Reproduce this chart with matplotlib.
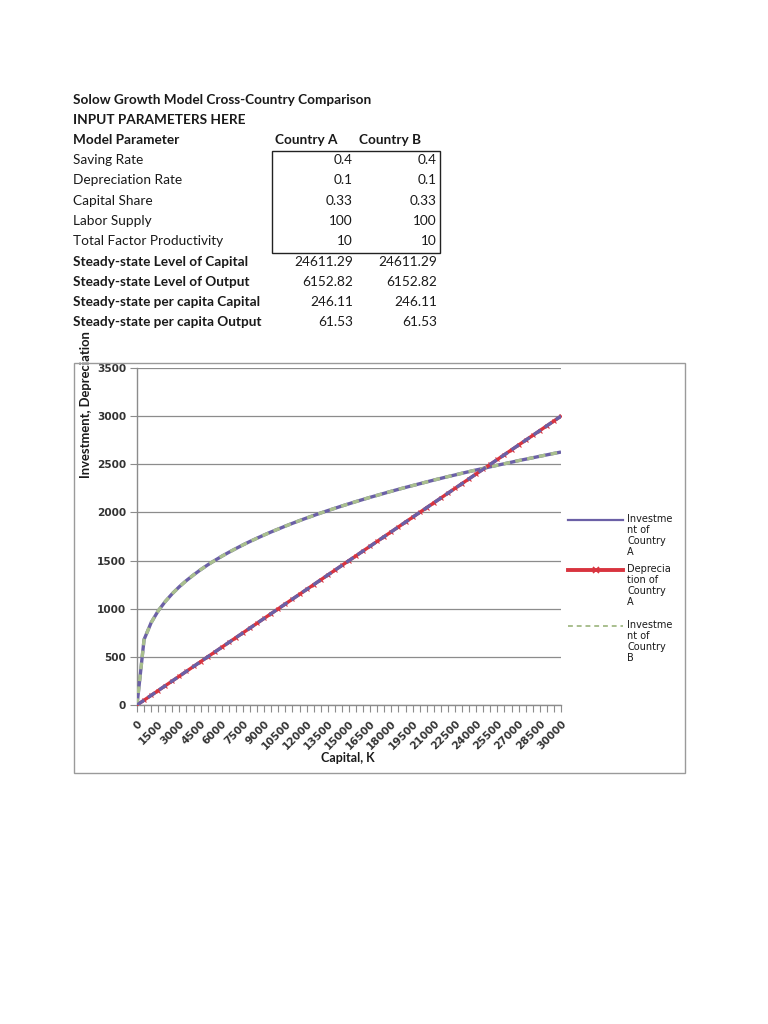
import matplotlib
matplotlib.use("Agg")
import matplotlib.pyplot as plt
from matplotlib.lines import Line2D
from matplotlib.patches import Rectangle

plt.rcParams['font.family'] = ['Lato', 'DejaVu Sans']

# ---------------- data ----------------
title = "Solow Growth Model Cross-Country Comparison"
subtitle = "INPUT PARAMETERS HERE"
header = ["Model Parameter", "Country A", "Country B"]
param_names = ["Saving Rate", "Depreciation Rate", "Capital Share",
               "Labor Supply", "Total Factor Productivity"]
param_a = ["0.4", "0.1", "0.33", "100", "10"]
param_b = ["0.4", "0.1", "0.33", "100", "10"]
ss_names = ["Steady-state Level of Capital", "Steady-state Level of Output",
            "Steady-state per capita Capital", "Steady-state per capita Output"]
ss_a = ["24611.29", "6152.82", "246.11", "61.53"]
ss_b = ["24611.29", "6152.82", "246.11", "61.53"]

capital = [0, 500, 1000, 1500, 2000, 2500, 3000, 3500, 4000, 4500, 5000,
           5500, 6000, 6500, 7000, 7500, 8000, 8500, 9000, 9500, 10000,
           10500, 11000, 11500, 12000, 12500, 13000, 13500, 14000, 14500, 15000,
           15500, 16000, 16500, 17000, 17500, 18000, 18500, 19000, 19500, 20000,
           20500, 21000, 21500, 22000, 22500, 23000, 23500, 24000, 24500, 25000,
           25500, 26000, 26500, 27000, 27500, 28000, 28500, 29000, 29500, 30000]

investment_a = [0, 680, 855, 978, 1075, 1157, 1229, 1293, 1351, 1405, 1455,
                1501, 1545, 1586, 1625, 1663, 1699, 1733, 1766, 1798, 1828,
                1858, 1887, 1915, 1942, 1968, 1994, 2019, 2043, 2067, 2090,
                2113, 2135, 2157, 2178, 2199, 2220, 2240, 2260, 2279, 2298,
                2317, 2336, 2354, 2372, 2389, 2407, 2424, 2441, 2457, 2474,
                2490, 2506, 2522, 2538, 2553, 2568, 2583, 2598, 2613, 2627]
investment_b = [0, 680, 855, 978, 1075, 1157, 1229, 1293, 1351, 1405, 1455,
                1501, 1545, 1586, 1625, 1663, 1699, 1733, 1766, 1798, 1828,
                1858, 1887, 1915, 1942, 1968, 1994, 2019, 2043, 2067, 2090,
                2113, 2135, 2157, 2178, 2199, 2220, 2240, 2260, 2279, 2298,
                2317, 2336, 2354, 2372, 2389, 2407, 2424, 2441, 2457, 2474,
                2490, 2506, 2522, 2538, 2553, 2568, 2583, 2598, 2613, 2627]
depreciation_a = [0, 50, 100, 150, 200, 250, 300, 350, 400, 450, 500,
                  550, 600, 650, 700, 750, 800, 850, 900, 950, 1000,
                  1050, 1100, 1150, 1200, 1250, 1300, 1350, 1400, 1450, 1500,
                  1550, 1600, 1650, 1700, 1750, 1800, 1850, 1900, 1950, 2000,
                  2050, 2100, 2150, 2200, 2250, 2300, 2350, 2400, 2450, 2500,
                  2550, 2600, 2650, 2700, 2750, 2800, 2850, 2900, 2950, 3000]
depreciation_b = [0, 50, 100, 150, 200, 250, 300, 350, 400, 450, 500,
                  550, 600, 650, 700, 750, 800, 850, 900, 950, 1000,
                  1050, 1100, 1150, 1200, 1250, 1300, 1350, 1400, 1450, 1500,
                  1550, 1600, 1650, 1700, 1750, 1800, 1850, 1900, 1950, 2000,
                  2050, 2100, 2150, 2200, 2250, 2300, 2350, 2400, 2450, 2500,
                  2550, 2600, 2650, 2700, 2750, 2800, 2850, 2900, 2950, 3000]

y_ticks = [0, 500, 1000, 1500, 2000, 2500, 3000, 3500]
legend_labels = ["Investme\nnt of\nCountry\nA",
                 "Deprecia\ntion of\nCountry\nA",
                 "Investme\nnt of\nCountry\nB"]
x_label = "Capital, K"
y_label = "Investment, Depreciation"

# ---------------- layout helpers ----------------
W, H = 768, 1024
def fx(px):
    return px / W
def fy(py):
    return 1 - py / H

C_PURPLE = '#6B60A6'
C_RED = '#D8343F'
C_GREEN = '#A9BF8E'
C_GRID = '#8C8C8C'
C_TEXT = '#1A1A1A'
C_TICK = '#333333'
CHART_FONT = ['DejaVu Sans']

fig = plt.figure(figsize=(7.68, 10.24), dpi=100)
fig.patch.set_facecolor('white')

# ---------------- table ----------------
fs_tab = 9.85
row0, dy = 99.5, 20.25
x_lab, x_a_r, x_b_r = 73, 353, 437
x_ha, x_hb = 275, 359

def row_y(i):
    return fy(row0 + dy * i)

fig.text(fx(x_lab), row_y(0), title, fontsize=fs_tab, fontweight='bold', va='center', color=C_TEXT)
fig.text(fx(x_lab), row_y(1), subtitle, fontsize=fs_tab, fontweight='bold', va='center', color=C_TEXT)
fig.text(fx(x_lab), row_y(2), header[0], fontsize=fs_tab, fontweight='bold', va='center', color=C_TEXT)
fig.text(fx(x_ha), row_y(2), header[1], fontsize=fs_tab, fontweight='bold', va='center', color=C_TEXT)
fig.text(fx(x_hb), row_y(2), header[2], fontsize=fs_tab, fontweight='bold', va='center', color=C_TEXT)
for i, (n, a, b) in enumerate(zip(param_names, param_a, param_b)):
    r = row_y(3 + i)
    fig.text(fx(x_lab), r, n, fontsize=fs_tab, va='center', color=C_TEXT)
    fig.text(fx(x_a_r), r, a, fontsize=fs_tab, va='center', ha='right', color=C_TEXT)
    fig.text(fx(x_b_r), r, b, fontsize=fs_tab, va='center', ha='right', color=C_TEXT)
for i, (n, a, b) in enumerate(zip(ss_names, ss_a, ss_b)):
    r = row_y(8 + i)
    fig.text(fx(x_lab), r, n, fontsize=fs_tab, fontweight='bold', va='center', color=C_TEXT)
    fig.text(fx(x_a_r), r, a, fontsize=fs_tab, va='center', ha='right', color=C_TEXT)
    fig.text(fx(x_b_r), r, b, fontsize=fs_tab, va='center', ha='right', color=C_TEXT)

# input box
fig.add_artist(Rectangle((fx(272), fy(253)), (440 - 272) / W, (253 - 151) / H,
                         transform=fig.transFigure, fill=False, edgecolor='#222222', lw=1.0))

# ---------------- chart frame ----------------
fig.add_artist(Rectangle((fx(74), fy(773)), (685 - 74) / W, (773 - 363) / H,
                         transform=fig.transFigure, fill=False, edgecolor='#9A9A9A', lw=1.0))

# ---------------- chart ----------------
ax = fig.add_axes([fx(137), fy(705), (561 - 137) / W, (705 - 368) / H])
xs = list(range(len(capital)))

ax.plot(xs, investment_a, color=C_PURPLE, lw=2.4, solid_capstyle='butt', zorder=3)
ax.plot(xs, investment_b, color=C_GREEN, lw=2.4, dashes=(2.0, 1.6), zorder=4)
ax.plot(xs, depreciation_a, color=C_RED, lw=2.4, marker='x', markersize=2.5,
        markeredgewidth=0.8, zorder=3)
ax.plot(xs, depreciation_b, color=C_PURPLE, lw=2.4, dashes=(2.6, 1.4), zorder=4)

ax.set_xlim(0, len(capital) - 1)
ax.set_ylim(0, 3500)
ax.set_yticks(y_ticks)
ax.set_yticklabels([str(v) for v in y_ticks], fontsize=7.6, fontweight='bold',
                   color=C_TICK, family=CHART_FONT)
ax.set_xticks(xs)
ax.set_xticklabels([str(c) if i % 3 == 0 else '' for i, c in enumerate(capital)],
                   rotation=45, ha='right', rotation_mode='anchor', fontsize=7.6,
                   fontweight='bold', color=C_TICK, family=CHART_FONT)
ax.tick_params(axis='both', direction='out', length=5, width=0.8, color=C_GRID, pad=3)
ax.tick_params(axis='x', pad=5)

ax.grid(axis='y', color=C_GRID, lw=0.9)
ax.set_axisbelow(True)
for s in ['top', 'right']:
    ax.spines[s].set_visible(False)
for s in ['left', 'bottom']:
    ax.spines[s].set_color(C_GRID)
    ax.spines[s].set_linewidth(1.0)

ax.set_xlabel(x_label, fontsize=9, fontweight='bold', color=C_TEXT)
ax.xaxis.set_label_coords(0.498, (705 - 752) / (705 - 368))
ax.set_ylabel(y_label, fontsize=9.4, fontweight='bold', color=C_TEXT)
ax.yaxis.set_label_coords((92 - 137) / (561 - 137), (705 - 405) / (705 - 368))

# ---------------- legend (manual, wrapped like the reference) ----------------
leg_styles = [dict(color=C_PURPLE, lw=1.6),
              dict(color=C_RED, lw=2.8, marker='x', markersize=5, markevery=[1], markeredgewidth=1.2),
              dict(color=C_GREEN, lw=1.4, dashes=(2.5, 2.0))]
leg_y = [520, 570, 626]
for lbl, st, yy in zip(legend_labels, leg_styles, leg_y):
    fig.add_artist(Line2D([fx(568), fx(595.5), fx(623)], [fy(yy)] * 3,
                          transform=fig.transFigure, **st))
    fig.text(fx(627), fy(yy - 5.5), lbl, fontsize=7, va='top', ha='left',
             linespacing=1.12, color=C_TEXT, family=CHART_FONT)

fig.savefig('out.png', dpi=100)
